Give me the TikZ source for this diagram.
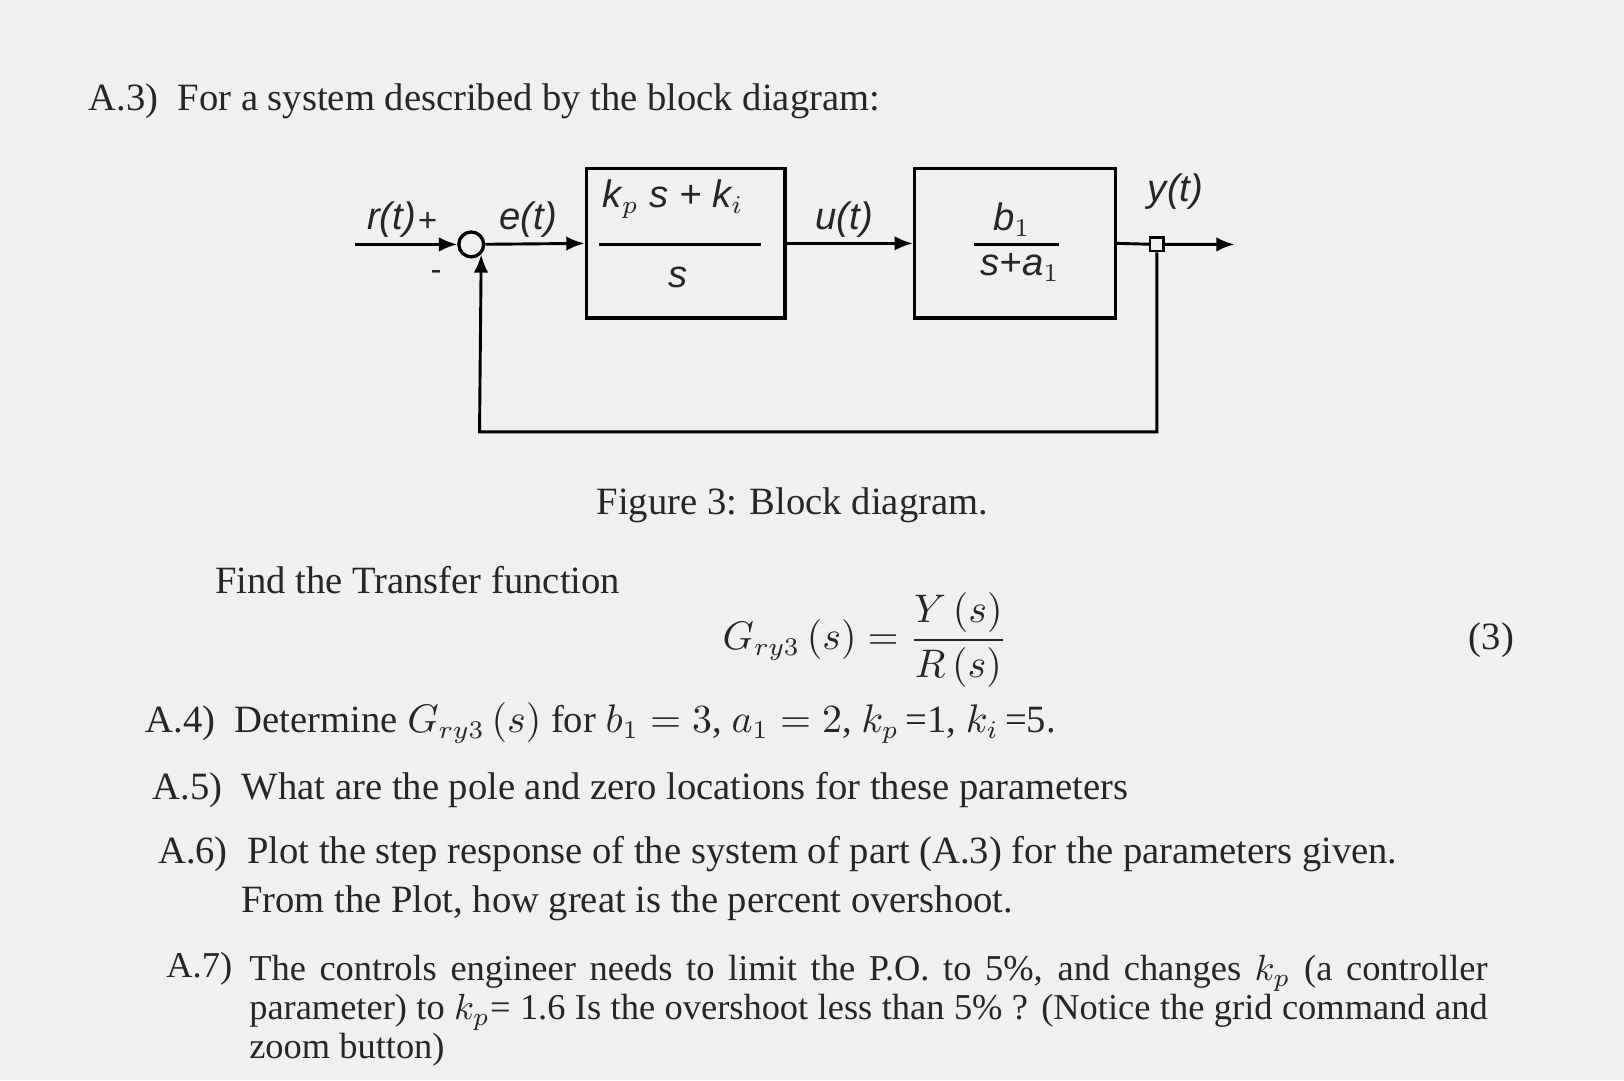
\documentclass[tikz,border=0pt]{standalone}
\usepackage{fontspec}
\setmainfont{Liberation Serif}
\setsansfont{Liberation Sans}
\usepackage{amsmath}
\usetikzlibrary{arrows.meta}
\begin{document}
\begin{tikzpicture}[x=0.01cm,y=-0.01cm,
  blk/.style={draw,line width=0.9pt,minimum width=1.92cm,minimum height=1.44cm,inner sep=0},
  lbl/.style={font=\sffamily\itshape\fontsize{10.5}{12}\selectfont,text=black!85,inner sep=1pt},
  txt/.style={font=\fontsize{10.6}{13}\selectfont,anchor=west,text=black!85,inner sep=0},
  sig/.style={line width=0.8pt,-{Latex[length=5pt,width=4pt]}}]
\fill[black!6] (0,0) rectangle (1568,1043);
\useasboundingbox (0,0) rectangle (1568,1043);
\node[txt] (title) at (85,98) {A.3)\ \ For a system described by the block diagram:};
% diagram
\node[draw,circle,line width=0.9pt,minimum size=0.24cm,inner sep=0] (sum) at (455,236) {};
\coordinate (rin) at (343,236);
\node[blk,minimum width=1.92cm] (b1) at (662,235) {};
\node[blk,minimum width=1.94cm] (b2) at (980,235) {};
\node[draw,line width=0.7pt,minimum size=0.13cm,inner sep=0] (tap) at (1117,236) {};
\coordinate (yout) at (1192,236);
\coordinate (fb1) at (1117,417);
\coordinate (fb2) at (463,417);
\draw[sig] (rin) -- (sum);
\draw[sig] (sum) -- (b1.west);
\draw[sig] (b1.east) -- (b2.west);
\draw[sig] (b2.east) -- (tap) -- (yout);
\draw[sig] (tap) -- (fb1) -- (fb2) -- (sum.south east);
\node[lbl] (lr) at (378,212) {r(t)};
\node[lbl,font=\sffamily\fontsize{9}{11}\selectfont] (lp) at (413,214) {+};
\node[lbl,font=\sffamily\fontsize{9}{11}\selectfont] (lm) at (421,266) {-};
\node[lbl] (le) at (510,212) {e(t)};
\node[lbl] (lu) at (815,212) {u(t)};
\node[lbl] (ly) at (1135,185) {y(t)};
\node[lbl] (n1) at (650,192) {k$_p$ s + k$_i$};
\draw[line width=0.6pt] (578,236) -- (735,236);
\node[lbl] (d1) at (655,268) {s};
\node[lbl] (n2) at (977,212) {b$_1$};
\draw[line width=0.6pt] (940,236) -- (1022,236);
\node[lbl] (d2) at (985,258) {s+a$_1$};
% text
\node[txt,anchor=center] (cap) at (765,488) {Figure 3: Block diagram.};
\node[txt] (find) at (207,560) {Find the Transfer function};
\node[txt,anchor=center] (eq) at (835,618) {$G_{ry3}\left(s\right)=\dfrac{Y\left(s\right)}{R\left(s\right)}$};
\node[txt,anchor=center] (num) at (1440,618) {(3)};
\node[txt] (a4) at (140,698) {A.4)\ \ Determine $G_{ry3}\left(s\right)$ for $b_1=3$, $a_1=2$, $k_p$\,=1, $k_i$\,=5.};
\node[txt] (a5) at (147,763) {A.5)\ \ What are the pole and zero locations for these parameters};
\node[txt] (a6) at (152,825) {A.6)\ \ Plot the step response of the system of part (A.3) for the parameters given.};
\node[txt] (a6b) at (232,872) {From the Plot, how great is the percent overshoot.};
\node[txt,font=\fontsize{10}{12}\selectfont] (a7) at (160,935) {A.7)};
\node[txt,anchor=north west,text width=11.95cm,align=justify,font=\fontsize{10}{10.6}\selectfont] (a7b) at (240,922)
 {The controls engineer needs to limit the P.O. to 5\%, and changes $k_p$ (a controller\linebreak parameter) to $k_p$= 1.6 Is the overshoot less than 5\% ? (Notice the grid command and\linebreak zoom button)};
\end{tikzpicture}
\end{document}
